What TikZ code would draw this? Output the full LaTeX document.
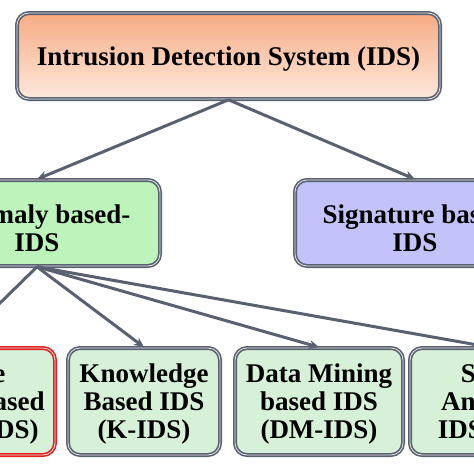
\documentclass[tikz,border=0pt]{standalone}
\usepackage{fontspec}
\setmainfont{Liberation Serif}
\usetikzlibrary{arrows.meta}

\definecolor{borda}{HTML}{59606F}
\definecolor{vermelho}{HTML}{E3201E}
\definecolor{pessegoA}{HTML}{F7AC84}
\definecolor{pessegoB}{HTML}{FDE8DC}
\definecolor{verdeA}{HTML}{BDF4BC}
\definecolor{lilas}{HTML}{C3C3F9}
\definecolor{verdeB}{HTML}{D7F1D8}

\begin{document}
\begin{tikzpicture}[x=1pt,y=-1pt,
    caixa/.style={rounded corners=12pt, draw=borda, line width=1.6pt,
        double=white!80!gray, double distance=0.8pt, align=center,
        inner sep=0pt, text depth=0pt,
        font=\fontsize{27}{28}\selectfont\bfseries},
    meio/.style={caixa, minimum height=86, text height=57pt},
    folha/.style={caixa, fill=verdeB, minimum height=107},
    seta/.style={draw=borda, line width=3pt,
        -{Stealth[length=10pt,width=9pt]}}]
    % moldura
    \useasboundingbox (0,0) rectangle (474,474);
    \clip (0,0) rectangle (474,474);

    % caixa principal
    \node[caixa, top color=pessegoA, bottom color=pessegoB,
        minimum width=423, minimum height=86] (ids) at (228.5,56)
        {Intrusion Detection System (IDS)};

    % segundo nível
    \node[meio, fill=verdeA, minimum width=246] (anomalia) at (37,223)
        {Anomaly based-\\IDS};
    \node[meio, fill=lilas, minimum width=240] (assinatura) at (415,223)
        {Signature based\\IDS};

    % terceiro nível
    \node[folha, draw=vermelho, minimum width=200] (ml) at (-45,401.5)
        {Machine\\Learning based\\IDS (ML-IDS)};
    \node[folha, minimum width=152] (kids) at (144,401.5)
        {Knowledge\\Based IDS\\(K-IDS)};
    \node[folha, minimum width=168] (dmids) at (319,401.5)
        {Data Mining\\based IDS\\(DM-IDS)};
    \node[folha, minimum width=160] (said) at (490,401.5)
        {State\\Analysis\\IDS (SA)};

    % ligações
    \draw[seta] (ids.south) -- (anomalia.north);
    \draw[seta] (ids.south) -- (assinatura.north);
    \foreach \f in {ml,kids,dmids,said}
        \draw[seta] (anomalia.south) -- (\f.north);
\end{tikzpicture}
\end{document}
